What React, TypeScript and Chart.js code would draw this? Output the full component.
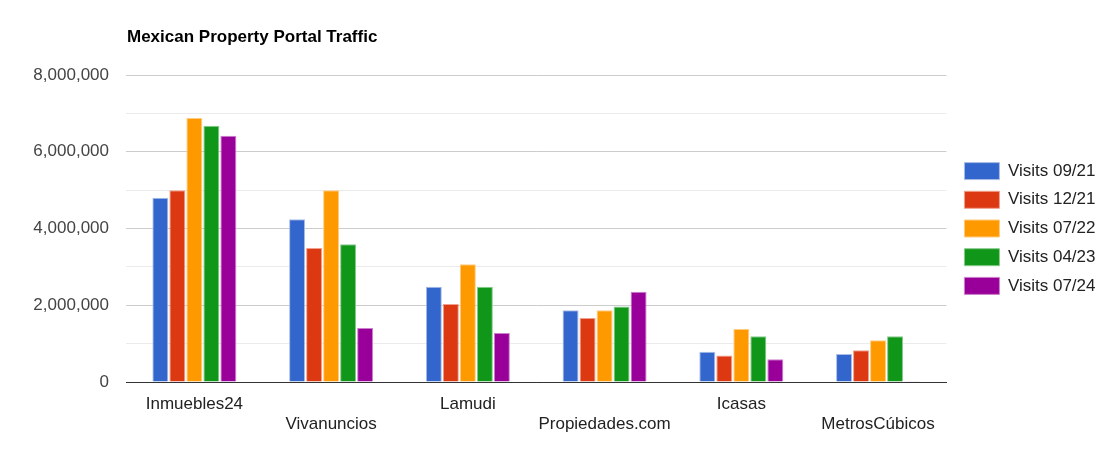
import React, { useEffect, useRef } from "react";
import { Chart, registerables } from "chart.js";

Chart.register(...registerables);

const categories = ["Inmuebles24", "Vivanuncios", "Lamudi", "Propiedades.com", "Icasas", "MetrosCúbicos"];
const seriesNames = ["Visits 09/21", "Visits 12/21", "Visits 07/22", "Visits 04/23", "Visits 07/24"];
const visits0921 = [4800000, 4240000, 2480000, 1870000, 790000, 730000];
const visits1221 = [5000000, 3490000, 2030000, 1670000, 690000, 830000];
const visits0722 = [6880000, 5000000, 3070000, 1870000, 1380000, 1090000];
const visits0423 = [6680000, 3590000, 2480000, 1970000, 1190000, 1190000];
const visits0724 = [6420000, 1410000, 1280000, 2350000, 590000, 20000];
const seriesColors = ["#3366cc", "#dc3912", "#ff9900", "#109618", "#990099"];
const seriesBorders = ["#a9bde8", "#f0a08c", "#ffcc80", "#88cb8c", "#cc80cc"];
const title = "Mexican Property Portal Traffic";
const FONT = "Arial, 'Liberation Sans', sans-serif";

const titlePlugin = {
  id: "leftTitle",
  afterDraw(chart: any) {
    const { ctx, chartArea } = chart;
    ctx.save();
    ctx.font = `bold 17px ${FONT}`;
    ctx.fillStyle = "#000000";
    ctx.textAlign = "left";
    ctx.textBaseline = "middle";
    ctx.fillText(title, chartArea.left + 1, 37);
    ctx.restore();
  },
};

export default function App() {
  const ref = useRef<HTMLCanvasElement>(null);
  useEffect(() => {
    if (!ref.current) return;
    const allSeries = [visits0921, visits1221, visits0722, visits0423, visits0724];
    const chart = new Chart(ref.current, {
      type: "bar",
      data: {
        labels: categories.map((c, i) => (i % 2 === 0 ? c : ["", c])),
        datasets: allSeries.map((d, i) => ({
          label: seriesNames[i],
          data: d,
          backgroundColor: seriesColors[i],
          borderColor: seriesBorders[i],
          borderWidth: 1,
          categoryPercentage: 0.622,
          barPercentage: 0.94,
        })),
      },
      options: {
        responsive: false,
        animation: false,
        layout: { padding: { top: 75, right: 13.5, bottom: 0, left: 0 } },
        plugins: {
          title: { display: false },
          tooltip: { enabled: false },
          legend: {
            display: true,
            position: "right",
            align: "center",
            fullSize: false,
            labels: {
              boxWidth: 35,
              boxHeight: 17,
              padding: 11.7,
              color: "#222222",
              font: { size: 17, family: FONT, lineHeight: 1.2 },
            },
          },
        },
        scales: {
          x: {
            grid: { display: false, drawTicks: false },
            border: { display: true, color: "#333333", width: 1 },
            ticks: {
              autoSkip: false,
              maxRotation: 0,
              minRotation: 0,
              padding: 12,
              color: "#222222",
              font: { size: 17, family: FONT, lineHeight: 1.2 },
            },
            afterFit: (s: any) => {
              s.height = 80;
            },
          },
          y: {
            min: 0,
            max: 8000000,
            border: { display: false },
            grid: {
              drawTicks: false,
              color: (c: any) =>
                c.tick && c.tick.value === 0 ? "#333333" : c.tick && c.tick.value % 2000000 === 0 ? "#cccccc" : "#ebebeb",
            },
            ticks: {
              stepSize: 1000000,
              padding: 17,
              color: "#444444",
              font: { size: 17, family: FONT },
              callback: (v: any) => (Number(v) % 2000000 === 0 ? Number(v).toLocaleString("en-US") : ""),
            },
            afterFit: (s: any) => {
              s.width = 126;
            },
          },
          spacer: {
            type: "linear",
            position: "right",
            display: true,
            grid: { display: false, drawTicks: false },
            border: { display: false },
            ticks: { display: false },
            afterFit: (s: any) => {
              s.width = 6.3;
            },
          },
        },
      },
      plugins: [titlePlugin],
    } as any);
    return () => chart.destroy();
  }, []);
  return (
    <div style={{ position: "fixed", left: 0, top: 0, width: 1119, height: 462, background: "#ffffff" }}>
      <canvas ref={ref} width={1119} height={462} style={{ display: "block" }} />
    </div>
  );
}
